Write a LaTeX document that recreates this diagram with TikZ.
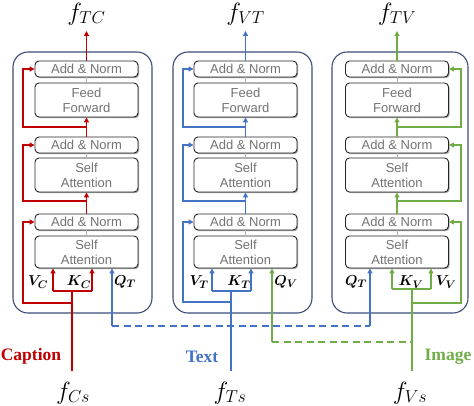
\documentclass[tikz,border=0pt]{standalone}
\usepackage{fontspec}
\setmainfont{Liberation Serif}
\newfontfamily\boxfont{Liberation Sans}
\usetikzlibrary{arrows.meta,shadows}
\definecolor{cred}{HTML}{C00000}
\definecolor{cblue}{HTML}{4472C4}
\definecolor{cgreen}{HTML}{70AD47}
\definecolor{cframe}{HTML}{3B4E78}
\tikzset{
  x=1pt,y=-1pt,
  outer/.style={draw=cframe,line width=1.1pt,rounded corners=15pt},
  blk/.style={draw=black!85,fill=white,line width=0.9pt,rounded corners=4pt,
    minimum width=103pt,inner sep=0pt,align=center,text=black!55,
    font=\boxfont\fontsize{13}{15}\selectfont,
    drop shadow={shadow xshift=1.2pt,shadow yshift=-1.2pt,opacity=0.35,fill=black}},
  anbox/.style={blk,minimum height=16pt},
  sabox/.style={blk,minimum height=34pt},
  link/.style={draw=black!30,line width=0.6pt},
  flow/.style={draw=#1,line width=1.4pt,-{Triangle[length=5pt,width=5pt]}},
  wire/.style={draw=#1,line width=1.4pt},
  dash/.style={draw=#1,line width=1.2pt,dash pattern=on 7pt off 4.5pt},
  ftitle/.style={font=\fontsize{23}{26}\selectfont,inner sep=0pt},
  lab/.style={font=\fontsize{15}{17}\selectfont\boldmath,inner sep=0pt},
  side/.style={font=\fontsize{17.5}{20}\selectfont\bfseries,inner sep=0pt},
}
\newcommand\mkpanel[6]{%
  \node[anbox] (#1an1) at (#2,222) {Add \& Norm};
  \node[sabox,minimum height=32pt] (#1sa1) at (#2,252) {Self\\Attention};
  \node[anbox] (#1an2) at (#2,145) {Add \& Norm};
  \node[sabox] (#1sa2) at (#2,175) {Self\\Attention};
  \node[anbox] (#1an3) at (#2,69) {Add \& Norm};
  \node[sabox] (#1ff) at (#2,100) {Feed\\Forward};
  \draw[link] (#1sa1.north) -- (#1an1.south);
  \draw[link] (#1sa2.north) -- (#1an2.south);
  \draw[link] (#1ff.north) -- (#1an3.south);
  \draw[flow=#3] (#1an1.north) -- (#1sa2.south);
  \coordinate (#1r1) at (#2,201);
  \draw[flow=#3] (#1r1) -- (#4,201) -- (#4,145) -- (#1an2.#5);
  \draw[flow=#3] (#1an2.north) -- (#1ff.south);
  \coordinate (#1r2) at (#2,127);
  \draw[flow=#3] (#1r2) -- (#4,127) -- (#4,69) -- (#1an3.#5);
  \coordinate (#1out) at (#2,31);
  \draw[flow=#3] (#1an3.north) -- (#1out);
  \node[ftitle] (#1title) at (#2,14) {#6};
}
\begin{document}
\begin{tikzpicture}
\useasboundingbox (0,0) rectangle (474,406);
% outer frames
\draw[outer] (13,52) rectangle (152,313);
\draw[outer] (173,52) rectangle (312,313);
\draw[outer] (332,52) rectangle (468,313);
% panels
\mkpanel{C}{86.5}{cred}{23}{west}{$f_{TC}$}
\mkpanel{T}{245.5}{cblue}{183}{west}{$f_{VT}$}
\mkpanel{V}{397}{cgreen}{461}{east}{$f_{TV}$}
% ---- Caption inputs
\node[ftitle] (fCs) at (73,393) {$f_{Cs}$};
\coordinate (Cs) at (72,371);
\coordinate (Cj) at (72,291);
\coordinate (Cvb) at (53,291);
\coordinate (Ckb) at (92,291);
\coordinate (Cres) at (72,303);
\draw[wire=cred] (Cs) -- (Cj);
\draw[wire=cred] (Cvb) -- (Ckb);
\draw[flow=cred] (Cvb) -- (Cvb |- Csa1.south);
\draw[flow=cred] (Ckb) -- (Ckb |- Csa1.south);
\draw[flow=cred] (Cres) -- (23,303) -- (23,222) -- (Can1.west);
\node[lab] (VC) at (38,282) {$V_C$};
\node[lab] (KC) at (79,282) {$K_C$};
\node[lab] (QT1) at (125,282) {$Q_T$};
\node[side,text=cred] (cap) at (31,356) {Caption};
% ---- Text inputs
\node[ftitle] (fTs) at (230,393) {$f_{Ts}$};
\coordinate (Ts) at (231,371);
\coordinate (Tj) at (231,291);
\coordinate (Tvb) at (212,291);
\coordinate (Tkb) at (251,291);
\coordinate (Tres) at (231,302);
\draw[wire=cblue] (Ts) -- (Tj);
\draw[wire=cblue] (Tvb) -- (Tkb);
\draw[flow=cblue] (Tvb) -- (Tvb |- Tsa1.south);
\draw[flow=cblue] (Tkb) -- (Tkb |- Tsa1.south);
\draw[flow=cblue] (Tres) -- (183,302) -- (183,222) -- (Tan1.west);
\node[lab] (VT) at (199,282) {$V_T$};
\node[lab] (KT) at (239,282) {$K_T$};
\node[lab] (QV) at (286,282) {$Q_V$};
\node[side,text=cblue] (txt) at (202,357) {Text};
% ---- Image inputs
\node[ftitle] (fVs) at (410,393) {$f_{Vs}$};
\coordinate (Vs) at (412,371);
\coordinate (Vj) at (412,289);
\coordinate (Vkb) at (392,289);
\coordinate (Vvb) at (431,289);
\coordinate (Vres) at (412,303);
\draw[wire=cgreen] (Vs) -- (Vj);
\draw[wire=cgreen] (Vkb) -- (Vvb);
\draw[flow=cgreen] (Vkb) -- (Vkb |- Vsa1.south);
\draw[flow=cgreen] (Vvb) -- (Vvb |- Vsa1.south);
\draw[flow=cgreen] (Vres) -- (461,303) -- (461,222) -- (Van1.east);
\node[lab] (QT3) at (356,282) {$Q_T$};
\node[lab] (KV) at (411,282) {$K_V$};
\node[lab] (VV) at (446,282) {$V_V$};
\node[side,text=cgreen] (img) at (448,357) {Image};
% ---- cross connections
\coordinate (qa) at (112,326);
\coordinate (qb) at (370,326);
\draw[dash=cblue] (qa) -- (qb);
\draw[flow=cblue] (qa) -- (qa |- Csa1.south);
\draw[flow=cblue] (qb) -- (qb |- Vsa1.south);
\coordinate (ga) at (272,342);
\coordinate (gb) at (412,342);
\draw[dash=cgreen] (ga) -- (gb);
\draw[flow=cgreen] (ga) -- (ga |- Tsa1.south);
\end{tikzpicture}
\end{document}
